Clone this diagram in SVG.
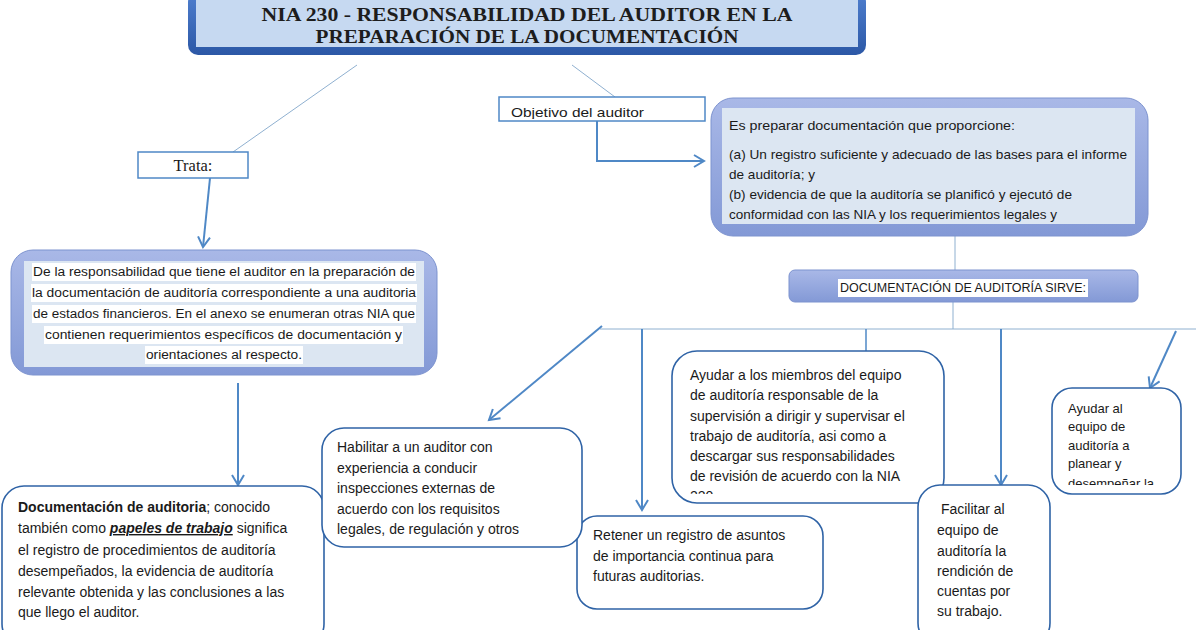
<svg xmlns="http://www.w3.org/2000/svg" width="1200" height="630" viewBox="0 0 1200 630">
<defs>
<linearGradient id="gTitle" x1="0" y1="0" x2="0" y2="1"><stop offset="0" stop-color="#4f7fcf"/><stop offset="1" stop-color="#2c58a6"/></linearGradient>
<linearGradient id="gPeri" x1="0" y1="0" x2="0" y2="1"><stop offset="0" stop-color="#a9b8e7"/><stop offset="1" stop-color="#8399d6"/></linearGradient>
<marker id="arr" markerUnits="userSpaceOnUse" markerWidth="16" markerHeight="16" refX="11" refY="7" orient="auto"><path d="M1,1 L11,7 L1,13" fill="none" stroke="#4f88c6" stroke-width="2"/></marker>
<clipPath id="cObj"><rect x="499" y="97" width="206" height="22"/></clipPath>
<clipPath id="cAyu"><rect x="672" y="351" width="272" height="143"/></clipPath>
<clipPath id="cAyu2"><rect x="1052" y="388" width="129" height="97"/></clipPath>
</defs>
<style>
.box{fill:#fff;stroke:#2f63a6;stroke-width:1.6}
.sq{fill:#fff;stroke:#4f88c6;stroke-width:1.5}
.peri{fill:url(#gPeri);stroke:#7d93cf;stroke-width:1}
.inner{fill:#dce6f2}
.t{font-family:"Liberation Sans",Arial,sans-serif;fill:#1a1a1a}
.s14{font-size:14px}
.s13{font-size:13px}
.cal{font-family:"Liberation Sans",Arial,sans-serif;font-size:12.5px;fill:#1a1a1a}
.title{font-family:"Liberation Serif","Times New Roman",serif;font-weight:bold;font-size:19px;fill:#1d1d1d}
.thin{stroke:#8fb0d0;stroke-width:1;fill:none}
.arrow{stroke:#4f88c6;stroke-width:2;fill:none}
.hl{fill:#ffffff}
</style>

<g id="title">
<rect x="188" y="-8" width="678" height="63" rx="10" fill="url(#gTitle)"/>
<rect x="196" y="0" width="662" height="47" fill="#c6d9f1"/>
<text class="title" x="527" y="21" text-anchor="middle" textLength="531" lengthAdjust="spacingAndGlyphs">NIA 230 - RESPONSABILIDAD DEL AUDITOR EN LA</text>
<text class="title" x="527" y="43" text-anchor="middle" textLength="423" lengthAdjust="spacingAndGlyphs">PREPARACIÓN DE LA DOCUMENTACIÓN</text>
</g>

<g id="connectors">
<line class="thin" x1="357" y1="65" x2="233" y2="152"/>
<line class="thin" x1="572" y1="65" x2="615" y2="97"/>
<line class="arrow" x1="210" y1="178" x2="203" y2="247" marker-end="url(#arr)"/>
<path class="arrow" d="M597,119 V161 H704" marker-end="url(#arr)"/>
<line class="thin" x1="955" y1="236" x2="955" y2="270"/>
<line class="thin" x1="953" y1="302" x2="953" y2="329"/>
<line class="thin" x1="600" y1="329" x2="1196" y2="329"/>
<line class="arrow" x1="238" y1="383" x2="238" y2="485" marker-end="url(#arr)"/>
<line class="arrow" x1="602" y1="326" x2="489" y2="420" marker-end="url(#arr)"/>
<line class="arrow" x1="642" y1="329" x2="642" y2="510" marker-end="url(#arr)"/>
<line class="arrow" x1="866" y1="329" x2="866" y2="351" style="stroke-width:1.5"/>
<line class="arrow" x1="1001" y1="329" x2="1001" y2="485" marker-end="url(#arr)"/>
<line class="arrow" x1="1176" y1="331" x2="1150" y2="388" marker-end="url(#arr)"/>
</g>

<g id="trata">
<rect class="sq" x="138" y="152" width="110" height="26"/>
<text x="193" y="171" text-anchor="middle" font-family="Liberation Serif, Times New Roman, serif" font-size="16.5" fill="#1a1a1a">Trata:</text>
</g>

<g id="objetivo">
<rect class="sq" x="499" y="97" width="206" height="24"/>
<text class="t s13" x="511" y="117" clip-path="url(#cObj)" textLength="133" lengthAdjust="spacingAndGlyphs">Objetivo del auditor</text>
</g>

<g id="preparar">
<rect class="peri" x="711" y="98" width="437" height="138" rx="22"/>
<rect class="inner" x="722" y="108" width="413" height="116"/>
<g class="t s13">
<text x="729" y="130" textLength="286" lengthAdjust="spacingAndGlyphs">Es preparar documentación que proporcione:</text>
<text x="729" y="159" textLength="398" lengthAdjust="spacingAndGlyphs">(a) Un registro suficiente y adecuado de las bases para el informe</text>
<text x="729" y="179" textLength="86" lengthAdjust="spacingAndGlyphs">de auditoría; y</text>
<text x="729" y="199" textLength="343" lengthAdjust="spacingAndGlyphs">(b) evidencia de que la auditoría se planificó y ejecutó de</text>
<text x="729" y="219" textLength="328" lengthAdjust="spacingAndGlyphs">conformidad con las NIA y los requerimientos legales y</text>
</g>
</g>

<g id="sirve">
<rect class="peri" x="789" y="270" width="349" height="32" rx="6"/>
<rect class="hl" x="838" y="279" width="250" height="18"/>
<text class="cal" x="840" y="292" textLength="246" lengthAdjust="spacingAndGlyphs">DOCUMENTACIÓN DE AUDITORÍA SIRVE:</text>
</g>

<g id="responsabilidad">
<rect class="peri" x="11" y="250" width="426" height="125" rx="22"/>
<rect class="inner" x="24" y="261" width="400" height="106"/>
<rect class="hl" x="32" y="263" width="384" height="18"/>
<rect class="hl" x="31" y="284" width="386" height="18"/>
<rect class="hl" x="32" y="305" width="384" height="18"/>
<rect class="hl" x="44" y="326" width="359" height="18"/>
<rect class="hl" x="145" y="346" width="158" height="18"/>
<g class="cal">
<text x="33" y="276" textLength="382" lengthAdjust="spacingAndGlyphs">De la responsabilidad que tiene el auditor en la preparación de</text>
<text x="32" y="297" textLength="384" lengthAdjust="spacingAndGlyphs">la documentación de auditoría correspondiente a una auditoria</text>
<text x="33" y="318" textLength="382" lengthAdjust="spacingAndGlyphs">de estados financieros. En el anexo se enumeran otras NIA que</text>
<text x="45" y="339" textLength="357" lengthAdjust="spacingAndGlyphs">contienen requerimientos específicos de documentación y</text>
<text x="146" y="359" textLength="156" lengthAdjust="spacingAndGlyphs">orientaciones al respecto.</text>
</g>
</g>

<g id="documentacion">
<rect class="box" x="2" y="486" width="322" height="160" rx="22"/>
<g class="t s14">
<text x="18" y="512"><tspan font-weight="bold">Documentación de auditoria</tspan>; conocido</text>
<text x="18" y="533">también como <tspan font-weight="bold" font-style="italic" text-decoration="underline">papeles de trabajo</tspan> significa</text>
<text x="18" y="555">el registro de procedimientos de auditoría</text>
<text x="18" y="576">desempeñados, la evidencia de auditoría</text>
<text x="18" y="597">relevante obtenida y las conclusiones a las</text>
<text x="18" y="617">que llego el auditor.</text>
</g>
</g>

<g id="retener">
<rect class="box" x="577" y="516" width="246" height="93" rx="20"/>
<g class="t s14">
<text x="593" y="540">Retener un registro de asuntos</text>
<text x="593" y="561">de importancia continua para</text>
<text x="593" y="581">futuras auditorias.</text>
</g>
</g>

<g id="habilitar">
<rect class="box" x="322" y="428" width="260" height="119" rx="22"/>
<g class="t s14">
<text x="337" y="452">Habilitar a un auditor con</text>
<text x="337" y="473">experiencia a conducir</text>
<text x="337" y="493">inspecciones externas de</text>
<text x="337" y="514">acuerdo con los requisitos</text>
<text x="337" y="534">legales, de regulación y otros</text>
</g>
</g>

<g id="ayudar-miembros">
<rect class="box" x="672" y="351" width="272" height="152" rx="25"/>
<g class="t s14" clip-path="url(#cAyu)">
<text x="690" y="380">Ayudar a los miembros del equipo</text>
<text x="690" y="400">de auditoría responsable de la</text>
<text x="690" y="421">supervisión a dirigir y supervisar el</text>
<text x="690" y="441">trabajo de auditoría, asi como a</text>
<text x="690" y="461">descargar sus responsabilidades</text>
<text x="690" y="481">de revisión de acuerdo con la NIA</text>
<text x="690" y="501">220</text>
</g>
</g>

<g id="facilitar">
<rect class="box" x="918" y="485" width="132" height="160" rx="22"/>
<g class="t s14">
<text x="937" y="514" xml:space="preserve"> Facilitar al</text>
<text x="937" y="535">equipo de</text>
<text x="937" y="556">auditoría la</text>
<text x="937" y="576">rendición de</text>
<text x="937" y="596">cuentas por</text>
<text x="937" y="616">su trabajo.</text>
</g>
</g>

<g id="ayudar-planear">
<rect class="box" x="1052" y="388" width="129" height="106" rx="20"/>
<g class="t s13" clip-path="url(#cAyu2)">
<text x="1068" y="413">Ayudar al</text>
<text x="1068" y="431">equipo de</text>
<text x="1068" y="450">auditoría a</text>
<text x="1068" y="468">planear y</text>
<text x="1068" y="488">desempeñar la</text>
</g>
</g>
</svg>
